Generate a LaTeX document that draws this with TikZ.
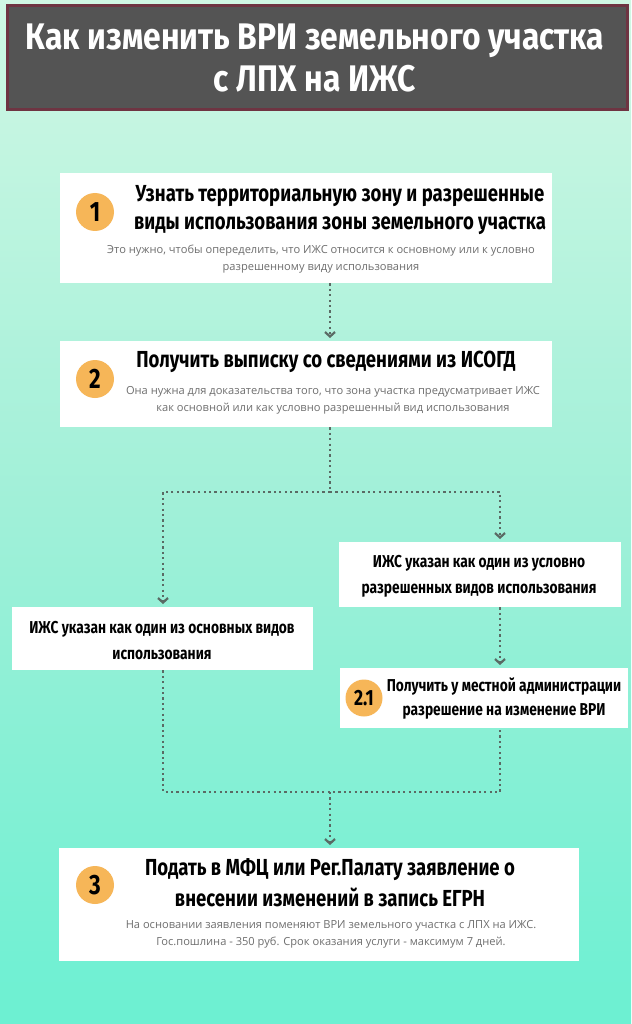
\documentclass[tikz,border=0pt]{standalone}
\usepackage{fontspec}
\usetikzlibrary{arrows.meta}
\setmainfont{Open Sans}
\newfontfamily\cf[FakeStretch=0.8]{Fira Sans}
\newfontfamily\tf[FakeStretch=0.86]{Fira Sans}
\definecolor{bgtop}{RGB}{208,247,228}
\definecolor{bgmid}{RGB}{160,240,216}
\definecolor{bgbot}{RGB}{108,240,210}
\definecolor{hdgray}{RGB}{84,84,84}
\definecolor{hdborder}{RGB}{110,52,66}
\definecolor{orng}{RGB}{246,182,88}
\definecolor{conncol}{RGB}{90,106,100}
\definecolor{subgray}{RGB}{110,110,110}
\begin{document}
\begin{tikzpicture}[x=1pt,y=-1pt,
  wbox/.style={fill=white, draw=none, anchor=north west, inner sep=0pt},
  numc/.style={circle, fill=orng, inner sep=0pt, minimum size=38pt, font=\fontsize{28}{28}\selectfont\cf\bfseries},
  ttl/.style={align=center, inner sep=0pt, font=\fontsize{23.2}{28}\selectfont\cf\bfseries},
  sml/.style={align=center, inner sep=0pt, text=black, font=\fontsize{17.2}{26}\selectfont\cf\bfseries},
  sub/.style={align=center, inner sep=0pt, text=subgray, font=\fontsize{11.1}{17}\selectfont},
  conn/.style={draw=conncol, line width=2.4pt, dash pattern=on 2.2pt off 3.2pt},
  arr/.style={conn, -{Straight Barb[length=4.5pt,width=10pt,line width=2.2pt]}, shorten >=3pt}
]
\useasboundingbox (0,0) rectangle (631,1024);
\shade[top color=bgtop, bottom color=bgbot, middle color=bgmid] (0,0) rectangle (631,1024);

% header
\node[fill=hdgray, draw=hdborder, line width=3pt, anchor=north west, minimum width=620pt, minimum height=104pt, inner sep=0pt] (hdr) at (5.5,4) {};
\node[align=center, text=white, inner sep=0pt, font=\fontsize{37}{42}\selectfont\tf\bfseries] (title) at (315,58) {Как изменить ВРИ земельного участка\\с ЛПХ на ИЖС};

% box 1
\node[wbox, minimum width=492pt, minimum height=110pt] (b1) at (60,173) {};
\node[numc] (n1) at (95,212) {1};
\node[ttl] (t1) at (340,210) {Узнать территориальную зону и разрешенные\\виды использования зоны земельного участка};
\node[sub] (s1) at (321,259) {Это нужно, чтобы опеределить, что ИЖС относится к основному или к условно\\разрешенному виду использования};

% box 2
\node[wbox, minimum width=492pt, minimum height=86pt] (b2) at (60,341) {};
\node[numc] (n2) at (95,379) {2};
\node[ttl] (t2) at (326,362) {Получить выписку со сведениями из ИСОГД};
\node[sub] (s2) at (333,400) {Она нужна для доказательства того, что зона участка предусматривает ИЖС\\как основной или как условно разрешенный вид использования};

% box A (right)
\node[wbox, minimum width=282pt, minimum height=65pt] (bA) at (339,542) {};
\node[sml] (tA) at (479,576) {ИЖС указан как один из условно\\разрешенных видов использования};

% box B (left)
\node[wbox, minimum width=301pt, minimum height=63pt] (bB) at (12,607) {};
\node[sml] (tB) at (162,641) {ИЖС указан как один из основных видов\\использования};

% box 2.1
\node[wbox, minimum width=288pt, minimum height=60pt] (b21) at (340,668) {};
\node[numc, minimum size=37pt, font=\fontsize{22}{22}\selectfont\cf\bfseries] (n21) at (364,698) {2.1};
\node[sml, font=\fontsize{17.2}{24}\selectfont\cf\bfseries] (t21) at (504,699) {Получить у местной администрации\\разрешение на изменение ВРИ};

% box 3
\node[wbox, minimum width=520pt, minimum height=113pt] (b3) at (59,848) {};
\node[numc] (n3) at (95,885) {3};
\node[ttl, font=\fontsize{23.2}{31}\selectfont\cf\bfseries] (t3) at (330,883) {Подать в МФЦ или Рег.Палату заявление о\\внесении изменений в запись ЕГРН};
\node[sub] (s3) at (331,934) {На основании заявления поменяют ВРИ земельного участка с ЛПХ на ИЖС.\\Гос.пошлина - 350 руб. Срок оказания услуги - максимум 7 дней.};

% connector coordinates
\coordinate (xm) at (330,0);
\coordinate (split) at (330,492);
\coordinate (sl) at (163,492);
\coordinate (sr) at (500,492);
\coordinate (jn) at (330,792);

\draw[arr] (b1.south -| xm) -- (b2.north -| xm);
\draw[conn] (b2.south -| xm) -- (split);
\draw[arr] (split) -- (sl) -- (bB.north -| sl);
\draw[arr] (split) -- (sr) -- (bA.north -| sr);
\draw[arr] (bA.south -| sr) -- (b21.north -| sr);
\draw[conn] (bB.south -| sl) -- (sl |- jn) -- (sr |- jn) -- (b21.south -| sr);
\draw[arr] (jn) -- (b3.north -| jn);
\end{tikzpicture}
\end{document}
